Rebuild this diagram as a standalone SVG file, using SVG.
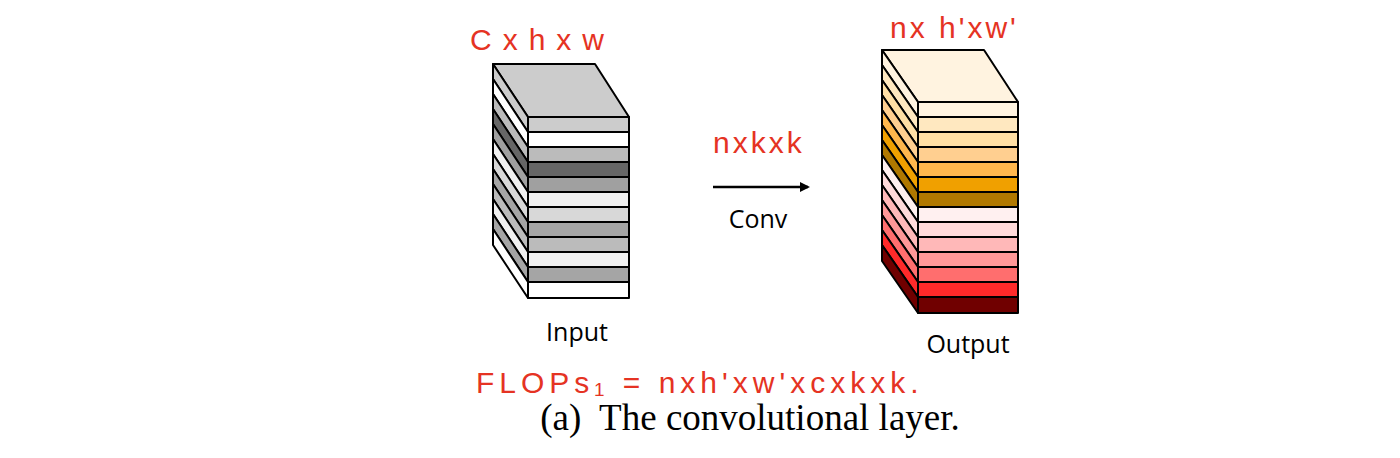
<svg xmlns="http://www.w3.org/2000/svg" width="1400" height="458" viewBox="0 0 1400 458">
<style>
.e{stroke:#000;stroke-width:2;stroke-linejoin:round}
.h{fill:#e53323;font-family:"Liberation Sans",sans-serif;font-size:30px}
.l{font-family:"Open Sans","Liberation Sans",sans-serif;font-size:25px;fill:#000}
.c{font-family:"Liberation Serif",serif;font-size:37px;fill:#000}
</style>
<defs><marker id="a" markerWidth="10" markerHeight="10" refX="8" refY="5" orient="auto" markerUnits="userSpaceOnUse"><path d="M0,0 L10,5 L0,10 z" fill="#000"/></marker></defs>
<rect width="1400" height="458" fill="#fff"/>
<g id="input">
<polygon class="e" points="493,64 595,64 629,117 528,117" fill="#cccccc"/>
<g class="e">
<polygon points="493,64 528,117 528,132 493,79" fill="#cccccc"/><rect x="528" y="117" width="101" height="15" fill="#cccccc"/>
<polygon points="493,79 528,132 528,147 493,94" fill="#ffffff"/><rect x="528" y="132" width="101" height="15" fill="#ffffff"/>
<polygon points="493,94 528,147 528,162 493,109" fill="#bbbbbb"/><rect x="528" y="147" width="101" height="15" fill="#bbbbbb"/>
<polygon points="493,109 528,162 528,177 493,124" fill="#666666"/><rect x="528" y="162" width="101" height="15" fill="#666666"/>
<polygon points="493,124 528,177 528,192 493,139" fill="#a0a0a0"/><rect x="528" y="177" width="101" height="15" fill="#a0a0a0"/>
<polygon points="493,139 528,192 528,207 493,154" fill="#f0f0f0"/><rect x="528" y="192" width="101" height="15" fill="#f0f0f0"/>
<polygon points="493,154 528,207 528,222 493,169" fill="#d8d8d8"/><rect x="528" y="207" width="101" height="15" fill="#d8d8d8"/>
<polygon points="493,169 528,222 528,237 493,184" fill="#a5a5a5"/><rect x="528" y="222" width="101" height="15" fill="#a5a5a5"/>
<polygon points="493,184 528,237 528,252 493,199" fill="#bbbbbb"/><rect x="528" y="237" width="101" height="15" fill="#bbbbbb"/>
<polygon points="493,199 528,252 528,267 493,214" fill="#f0f0f0"/><rect x="528" y="252" width="101" height="15" fill="#f0f0f0"/>
<polygon points="493,214 528,267 528,282 493,229" fill="#a5a5a5"/><rect x="528" y="267" width="101" height="15" fill="#a5a5a5"/>
<polygon points="493,229 528,282 528,298 493,245" fill="#ffffff"/><rect x="528" y="282" width="101" height="16" fill="#ffffff"/>
</g>
<text class="l" x="577" y="341" text-anchor="middle">Input</text>
<text class="h" x="470" y="50" letter-spacing="11">Cxhxw</text>
</g>
<g id="output">
<polygon class="e" points="882,50 984,50 1018,102 918,102" fill="#fff3e0"/>
<g class="e">
<polygon points="882,50 918,102 918,117 882,65" fill="#fff3e0"/><rect x="918" y="102" width="100" height="15" fill="#fff3e0"/>
<polygon points="882,65 918,117 918,132 882,80" fill="#ffe8c0"/><rect x="918" y="117" width="100" height="15" fill="#ffe8c0"/>
<polygon points="882,80 918,132 918,147 882,95" fill="#ffdfa5"/><rect x="918" y="132" width="100" height="15" fill="#ffdfa5"/>
<polygon points="882,95 918,147 918,162 882,110" fill="#ffcf90"/><rect x="918" y="147" width="100" height="15" fill="#ffcf90"/>
<polygon points="882,110 918,162 918,177 882,125" fill="#ffb74d"/><rect x="918" y="162" width="100" height="15" fill="#ffb74d"/>
<polygon points="882,125 918,177 918,192 882,140" fill="#f0a000"/><rect x="918" y="177" width="100" height="15" fill="#f0a000"/>
<polygon points="882,140 918,192 918,207 882,155" fill="#b07800"/><rect x="918" y="192" width="100" height="15" fill="#b07800"/>
<polygon points="882,155 918,207 918,222 882,170" fill="#fff0f0"/><rect x="918" y="207" width="100" height="15" fill="#fff0f0"/>
<polygon points="882,170 918,222 918,237 882,185" fill="#ffdada"/><rect x="918" y="222" width="100" height="15" fill="#ffdada"/>
<polygon points="882,185 918,237 918,252 882,200" fill="#ffb8b8"/><rect x="918" y="237" width="100" height="15" fill="#ffb8b8"/>
<polygon points="882,200 918,252 918,267 882,215" fill="#ff9898"/><rect x="918" y="252" width="100" height="15" fill="#ff9898"/>
<polygon points="882,215 918,267 918,282 882,230" fill="#ff6e6e"/><rect x="918" y="267" width="100" height="15" fill="#ff6e6e"/>
<polygon points="882,230 918,282 918,297 882,245" fill="#ff2a2a"/><rect x="918" y="282" width="100" height="15" fill="#ff2a2a"/>
<polygon points="882,245 918,297 918,313 882,261" fill="#700000"/><rect x="918" y="297" width="100" height="16" fill="#700000"/>
</g>
<text class="l" x="968" y="353" text-anchor="middle">Output</text>
<text class="h" x="890" y="38" letter-spacing="3">nx h'xw'</text>
</g>
<g id="connectors">
<line x1="713" y1="187" x2="808" y2="187" stroke="#000" stroke-width="2.5" marker-end="url(#a)"/>
<text class="l" x="758" y="228" text-anchor="middle">Conv</text>
<text class="h" x="713" y="153" letter-spacing="3">nxkxk</text>
</g>
<text class="h" x="476" y="393" font-size="34" letter-spacing="5">FLOPs₁ = nxh'xw'xcxkxk.</text>
<text class="c" x="750" y="430" text-anchor="middle" xml:space="preserve">(a)  The convolutional layer.</text>
</svg>
